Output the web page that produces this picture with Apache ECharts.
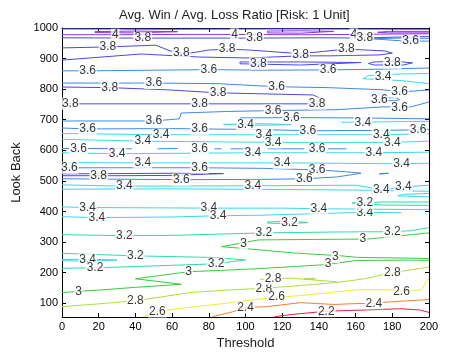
<!DOCTYPE html>
<html><head><meta charset="utf-8">
<script src="https://cdn.jsdelivr.net/npm/echarts@6/dist/echarts.min.js"></script>
<style>html,body{margin:0;padding:0;background:#fff}#c{width:474px;height:355px}</style>
</head><body><div id="c"></div>
<script>
// Axis ticks
const xTicks = [0,20,40,60,80,100,120,140,160,180,200];
const yTicks = [100,200,300,400,500,600,700,800,900,1000];

// Contour polylines per level, [Threshold, Look Back]
const lines40 = [
 [[0,978],[30,978],[60,979],[94,979],[130,978],[159,979],[175,980],[200,981]],
 [[18,988],[40,990],[63,988],[63,985],[40,984],[18,985],[18,988]],
 [[112,990],[130,991],[148,989],[148,984],[130,983],[112,984],[112,990]],
 [[200,989],[178,989],[172,986],[178,984],[200,984]]
];
const labels40 = [[29,978],[94,979],[159,979]];

const lines38 = [
 [[0,997],[60,996],[120,997],[200,996]],
 [[0,968],[44,967],[105,967],[140,968],[165,967],[180,970],[200,972]],
 [[0,935],[25,938],[51,944],[59,925],[65,918],[70,918],[80,928],[90,931],[102,928],[130,916],[155,931],[176,925],[180,918],[173,912],[146,909],[130,909],[102,902],[75,905],[43,915],[0,895]],
 [[97,889],[130,889],[163,887],[164,881],[130,879],[97,883],[97,889]],
 [[170,889],[182,891],[191,886],[186,879],[170,879],[167,884],[170,889]],
 [[0,807],[26,805],[57,798],[85,788],[137,781],[142,765],[139,752],[100,752],[75,752],[0,752]],
 [[0,523],[30,524],[60,525],[88,524],[88,519],[60,518],[30,517],[0,517]]
];
const labels38 = [[44,967],[105,967],[165,967],[25,938],[65,918],[90,931],[130,914],[155,931],[107,884],[180,886],[26,805],[85,788],[4.5,752],[75,752],[139,753],[20,518]];

const lines36 = [
 [[200,966],[185,967],[168,965],[167,961],[185,958],[200,957]],
 [[0,860],[14,860],[50,862],[80,864],[110,862],[145,863],[170,865],[200,869]],
 [[0,820],[50,820],[85,818],[117,808],[145,805],[175,798],[184,791],[192,794],[200,797]],
 [[174,771],[182,772],[184,766],[182,762],[174,763],[172,767],[174,771]],
 [[0,696],[50,696],[64,703],[65,722],[90,727],[115,730],[150,733],[175,742],[190,742],[200,758]],
 [[97,706],[125,707],[161,706],[200,703]],
 [[0,673],[14,670],[60,671],[75,670],[110,668],[134,664],[170,665],[194,667],[200,668]],
 [[0,606],[4,606]], [[14,606],[38,605]], [[52,605],[63,606]], [[83,605],[87,605]], [[92,605],[103,605]], [[112,605],[132,605]], [[145,605],[155,605]],
 [[0,543],[4,543],[75,543],[110,541],[139,536],[155,530],[163,525],[150,513],[132,507],[110,505],[65,504],[0,507]],
 [[173,524],[178,525],[178,521],[173,522],[173,524]]
];
const labels36 = [[190,958],[14,860],[80,864],[145,863],[50,820],[117,808],[184,791],[173,766],[50,696],[115,730],[184,740],[125,707],[14,670],[75,670],[134,664],[194,667],[9,606],[75,605],[139,605],[4,543],[75,543],[139,536],[65,504],[132,507]];

const lines34 = [
 [[200,851],[185,850],[167,844],[164,834],[185,828],[200,818]],
 [[88,685],[110,687],[125,684],[110,682],[88,684]],
 [[152,692],[175,693],[200,695]],
 [[0,655],[54,651],[110,651],[174,651],[200,654]],
 [[0,636],[44,630],[115,626],[180,626],[200,630]],
 [[0,592],[30,589],[104,592],[170,592],[200,594]],
 [[0,560],[44,559],[120,559],[185,556],[200,558]],
 [[0,487],[34,483],[104,484],[160,486],[174,471],[186,480],[200,486]],
 [[0,473],[60,474],[120,472],[160,470],[200,466]],
 [[200,459],[186,456],[183,451],[200,448]],
 [[0,415],[14,413],[80,411],[120,411],[140,409],[160,408],[200,406]],
 [[0,383],[19,380],[60,382],[85,386],[110,388],[150,395],[165,397],[185,396]],
 [[0,243],[15,244],[30,241],[15,238],[0,239]]
];
const labels34 = [[175,840],[100,684],[164,692],[54,651],[110,651],[174,651],[44,630],[115,626],[180,626],[30,589],[104,592],[170,592],[44,559],[120,559],[185,556],[34,483],[104,484],[174,471],[186,480],[14,413],[80,411],[140,409],[19,380],[85,386],[165,397],[14,243]];

const lines32 = [
 [[112,366],[125,368],[134,364],[125,360],[112,362],[112,366]],
 [[200,431],[175,431],[158,428],[175,421],[200,420]],
 [[0,324],[34,321],[60,322],[110,330],[150,333],[180,334],[190,337],[200,347]],
 [[0,263],[40,255],[80,250],[100,242],[84,229],[50,222],[18,216],[0,214]]
];
const labels32 = [[124,363],[165,428],[34,321],[110,330],[180,334],[40,254],[18,216],[84,229]];

const lines30 = [
 [[200,330],[167,310],[125,308],[107,307],[87,285],[107,275],[125,265],[152,255],[161,250],[193,247],[200,246]],
 [[200,240],[190,241],[161,240],[143,226],[107,213],[69,203],[40,180],[65,162],[40,152],[20,143],[0,135]]
];
const labels30 = [[99,295],[164,312],[149,251],[69,203],[9,138],[145,228]];

const lines28 = [
 [[0,89],[20,98],[40,108],[70,135],[90,143],[110,149],[130,158],[150,168],[165,180],[180,200],[200,218]],
 [[150,170],[125,182],[115,180],[108,178]],
 [[132,180],[135,182],[138,180],[135,178],[132,180]]
];
const labels28 = [[40,108],[110,149],[115,180],[180,200]];

const lines26 = [
 [[44,56],[52,73],[63,82],[88,99],[114,118],[130,125],[146,135],[161,144],[179,144],[185,138],[196,144],[198,165],[200,183]]
];
const labels26 = [[52,73],[117,121],[185,138]];

const lines24 = [
 [[82,56],[93,72],[100,86],[112,89],[130,102],[148,96],[161,99],[170,100],[180,105],[200,112]]
];
const labels24 = [[100,86],[170,100]];

const lines22 = [
 [[116,56],[125,63],[144,74],[166,78],[184,82],[195,78],[200,70]]
];
const labels22 = [[144,74]];

const levelNames = ['4','3.8','3.6','3.4','3.2','3','2.8','2.6','2.4','2.2'];
const levelColors = ['#9230e6','#4a48de','#3d8ae6','#3ad8e6','#2fdca2','#35cc3a','#b0dc3c','#ecec2c','#ee8030','#e42040'];
const levelLines = [lines40,lines38,lines36,lines34,lines32,lines30,lines28,lines26,lines24,lines22];
const levelLabels = [labels40,labels38,labels36,labels34,labels32,labels30,labels28,labels26,labels24,labels22];

const FONT = 'Liberation Sans, Arial, Helvetica, sans-serif';
const series = [];
levelNames.forEach((lv, i) => {
  levelLines[i].forEach(pl => series.push({
    type:'line', data: pl, showSymbol:false, symbol:'none', silent:true, z:2, animation:false,
    lineStyle:{color: levelColors[i], width:1}
  }));
});
levelNames.forEach((lv, i) => {
  series.push({
    type:'scatter', data: levelLabels[i], symbolSize:0, silent:true, z:5, animation:false,
    label:{show:true, position:'inside', formatter: lv, color:'#000', fontSize:12, fontFamily:FONT,
      backgroundColor:'#fff', padding:[0,1]}
  });
});

const axisCommon = {
  axisLine:{onZero:false, lineStyle:{color:'#000', width:1}},
  splitLine:{show:false}
};
const plain = v => String(v);
const chart = echarts.init(document.getElementById('c'), null, {renderer:'canvas'});
chart.setOption({
  animation:false,
  backgroundColor:'#fff',
  title:{text:'Avg. Win / Avg. Loss Ratio [Risk: 1 Unit]', left:114, top:4,
    textStyle:{fontSize:13, fontWeight:'normal', color:'#222', fontFamily:FONT}},
  grid:{left:62, right:45, top:28, bottom:38},
  xAxis:[
    Object.assign({type:'value', min:0, max:200, interval:20, position:'bottom',
      axisTick:{inside:true, length:4, lineStyle:{color:'#000'}},
      axisLabel:{color:'#000', fontSize:11, margin:4, fontFamily:FONT, customValues:xTicks, formatter:plain},
      name:'Threshold', nameLocation:'middle', nameGap:16,
      nameTextStyle:{fontSize:13, color:'#222', fontFamily:FONT}}, axisCommon),
    Object.assign({type:'value', min:0, max:200, interval:20, position:'top',
      axisTick:{inside:true, length:4, lineStyle:{color:'#000'}},
      axisLabel:{show:false}}, axisCommon)
  ],
  yAxis:[
    Object.assign({type:'value', min:55, max:1000, position:'left',
      axisTick:{inside:true, length:4, customValues:yTicks, lineStyle:{color:'#000'}},
      axisLabel:{color:'#000', fontSize:11, margin:4, fontFamily:FONT, customValues:yTicks, formatter:plain},
      name:'Look Back', nameLocation:'middle', nameGap:28,
      nameTextStyle:{fontSize:13, color:'#222', fontFamily:FONT}}, axisCommon),
    Object.assign({type:'value', min:55, max:1000, position:'right',
      axisTick:{inside:true, length:4, customValues:yTicks, lineStyle:{color:'#000'}},
      axisLabel:{show:false, customValues:yTicks}}, axisCommon)
  ],
  series: series
});
</script>
</body></html>
